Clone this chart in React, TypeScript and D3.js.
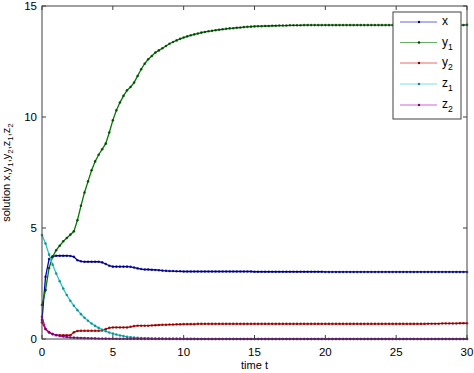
import * as d3 from "d3";

// sample times (every 0.25 time units, 0..30)
const time = d3.range(0, 30.001, 0.25);

const xSeries = [
  0.86, 2.8, 3.6, 3.72, 3.75, 3.75, 3.75, 3.75,
  3.74, 3.7, 3.55, 3.5, 3.48, 3.48, 3.48, 3.48,
  3.48, 3.45, 3.38, 3.3, 3.26, 3.26, 3.26, 3.26,
  3.26, 3.25, 3.22, 3.18, 3.15, 3.13, 3.13, 3.12,
  3.11, 3.1, 3.08, 3.07, 3.06, 3.06, 3.05, 3.05,
  3.04, 3.04, 3.04, 3.04, 3.04, 3.04, 3.04, 3.04,
  3.04, 3.04, 3.04, 3.04, 3.04, 3.04, 3.04, 3.04,
  3.04, 3.04, 3.04, 3.04, 3.03, 3.03, 3.03, 3.03,
  3.03, 3.03, 3.03, 3.03, 3.03, 3.03, 3.03, 3.03,
  3.03, 3.03, 3.03, 3.03, 3.03, 3.03, 3.03, 3.03,
  3.02, 3.02, 3.02, 3.02, 3.02, 3.02, 3.02, 3.02,
  3.02, 3.02, 3.02, 3.02, 3.02, 3.02, 3.02, 3.02,
  3.02, 3.02, 3.02, 3.02, 3.02, 3.02, 3.02, 3.02,
  3.02, 3.02, 3.02, 3.02, 3.02, 3.02, 3.02, 3.02,
  3.02, 3.02, 3.02, 3.02, 3.02, 3.02, 3.02, 3.02,
  3.02,
];

const y1Series = [
  1.53, 2.2, 3.2, 3.7, 4.0, 4.2, 4.4, 4.55,
  4.7, 4.85, 5.35, 6.0, 6.6, 7.1, 7.6, 8.0,
  8.3, 8.55, 8.8, 9.3, 9.85, 10.3, 10.65, 10.95,
  11.2, 11.35, 11.55, 11.85, 12.15, 12.4, 12.6, 12.75,
  12.9, 13.0, 13.1, 13.2, 13.3, 13.38, 13.45, 13.52,
  13.58, 13.63, 13.68, 13.72, 13.76, 13.8, 13.83, 13.86,
  13.88, 13.91, 13.93, 13.95, 13.97, 13.99, 14.0, 14.02,
  14.03, 14.05, 14.06, 14.07, 14.08, 14.09, 14.09, 14.1,
  14.1, 14.11, 14.11, 14.12, 14.12, 14.12, 14.13, 14.13,
  14.13, 14.13, 14.14, 14.14, 14.14, 14.14, 14.14, 14.14,
  14.14, 14.14, 14.14, 14.14, 14.14, 14.14, 14.14, 14.14,
  14.14, 14.14, 14.14, 14.14, 14.14, 14.14, 14.14, 14.14,
  14.14, 14.14, 14.14, 14.14, 14.14, 14.14, 14.14, 14.14,
  14.14, 14.14, 14.14, 14.14, 14.14, 14.14, 14.14, 14.14,
  14.14, 14.14, 14.14, 14.14, 14.14, 14.14, 14.14, 14.14,
  14.15,
];

const y2Series = [
  0.75, 0.45, 0.3, 0.22, 0.18, 0.17, 0.17, 0.17,
  0.17, 0.3, 0.36, 0.37, 0.37, 0.37, 0.37, 0.37,
  0.37, 0.38, 0.45, 0.5, 0.52, 0.52, 0.52, 0.52,
  0.52, 0.55, 0.58, 0.6, 0.6, 0.6, 0.6, 0.61,
  0.62, 0.63, 0.64, 0.64, 0.65, 0.65, 0.66, 0.66,
  0.67, 0.67, 0.67, 0.67, 0.68, 0.68, 0.68, 0.68,
  0.68, 0.68, 0.68, 0.68, 0.68, 0.68, 0.68, 0.68,
  0.68, 0.68, 0.68, 0.68, 0.68, 0.68, 0.68, 0.68,
  0.68, 0.68, 0.68, 0.68, 0.68, 0.68, 0.68, 0.68,
  0.68, 0.68, 0.68, 0.68, 0.68, 0.68, 0.68, 0.68,
  0.68, 0.68, 0.68, 0.68, 0.68, 0.68, 0.68, 0.68,
  0.68, 0.68, 0.68, 0.68, 0.68, 0.68, 0.68, 0.68,
  0.68, 0.68, 0.68, 0.68, 0.68, 0.68, 0.68, 0.68,
  0.68, 0.68, 0.68, 0.68, 0.68, 0.69, 0.69, 0.69,
  0.69, 0.7, 0.7, 0.7, 0.7, 0.7, 0.71, 0.71,
  0.71,
];

const z1Series = [
  4.68, 4.3, 3.8, 3.35, 2.95, 2.6, 2.27, 1.98,
  1.72, 1.5, 1.3, 1.12, 0.96, 0.82, 0.7, 0.59,
  0.5, 0.42, 0.35, 0.29, 0.24, 0.2, 0.16, 0.13,
  0.1, 0.08, 0.06, 0.05, 0.04, 0.035, 0.03, 0.025,
  0.02, 0.018, 0.015, 0.012, 0.01, 0.009, 0.008, 0.007,
  0.006, 0.005, 0.004, 0.004, 0.003, 0.003, 0.003, 0.003,
  0.002, 0.002, 0.002, 0.002, 0.002, 0.002, 0.002, 0.002,
  0, 0, 0, 0, 0, 0, 0, 0,
  0, 0, 0, 0, 0, 0, 0, 0,
  0, 0, 0, 0, 0, 0, 0, 0,
  0, 0, 0, 0, 0, 0, 0, 0,
  0, 0, 0, 0, 0, 0, 0, 0,
  0, 0, 0, 0, 0, 0, 0, 0,
  0, 0, 0, 0, 0, 0, 0, 0,
  0, 0, 0, 0, 0, 0, 0, 0,
  0,
];

const z2Series = [
  1.0, 0.45, 0.3, 0.22, 0.17, 0.14, 0.11, 0.09,
  0.07, 0.06, 0.05, 0.045, 0.04, 0.035, 0.03, 0.028,
  0.02, 0.018, 0.016, 0.014, 0.012, 0.01, 0.009, 0.008,
  0.007, 0.007, 0.006, 0.006, 0.005, 0.005, 0.005, 0.005,
  0.005, 0.005, 0.005, 0.005, 0.005, 0.005, 0.005, 0.005,
  0, 0, 0, 0, 0, 0, 0, 0,
  0, 0, 0, 0, 0, 0, 0, 0,
  0, 0, 0, 0, 0, 0, 0, 0,
  0, 0, 0, 0, 0, 0, 0, 0,
  0, 0, 0, 0, 0, 0, 0, 0,
  0, 0, 0, 0, 0, 0, 0, 0,
  0, 0, 0, 0, 0, 0, 0, 0,
  0, 0, 0, 0, 0, 0, 0, 0,
  0, 0, 0, 0, 0, 0, 0, 0,
  0, 0, 0, 0, 0, 0, 0, 0,
  0,
];

const seriesNames = ["x", "y1", "y2", "z1", "z2"];
const seriesValues = [xSeries, y1Series, y2Series, z1Series, z2Series];
const seriesColors = ["#0000c0", "#007a00", "#e00000", "#20c8c8", "#b400b4"];
const markerColors = ["#000070", "#003800", "#800000", "#108080", "#700070"];

const xTicks = [0, 5, 10, 15, 20, 25, 30];
const yTicks = [0, 5, 10, 15];

const W = 474;
const H = 373;
const margin = { top: 6, right: 7, bottom: 34, left: 42 };
const font = "Arial, 'Liberation Sans', Helvetica, sans-serif";

function Label({ name, x, y, size }: { name: string; x: number; y: number; size: number }) {
  const base = name[0];
  const sub = name.slice(1);
  return (
    <text x={x} y={y} fontSize={size} fontFamily={font} fill="#000">
      {base}
      {sub && (
        <tspan fontSize={size * 0.72} dy={size * 0.35}>
          {sub}
        </tspan>
      )}
    </text>
  );
}

export default function App() {
  const xScale = d3
    .scaleLinear()
    .domain([0, 30])
    .range([margin.left, W - margin.right]);
  const yScale = d3
    .scaleLinear()
    .domain([0, 15])
    .range([H - margin.bottom, margin.top]);

  const line = d3
    .line<number>()
    .x((_, i) => xScale(time[i]))
    .y((d) => yScale(d));

  const [x0, x1] = xScale.range();
  const [yb, yt] = yScale.range();
  const axisColor = "#404040";
  const tickLen = 4;

  // legend geometry
  const lg = { x: 393, y: 12, w: 68, h: 107 };
  const rowY = [22, 42.5, 63, 84, 105];

  return (
    <svg
      width={W}
      height={H}
      style={{ position: "absolute", left: 0, top: 0, background: "#fff" }}
    >
      <rect x={0} y={0} width={W} height={H} fill="#fff" />

      {seriesValues.map((vals, s) => (
        <g key={seriesNames[s]}>
          <path d={line(vals) ?? ""} fill="none" stroke={seriesColors[s]} strokeWidth={1.3} />
          {vals.map((v, i) => (
            <circle
              key={i}
              cx={xScale(time[i])}
              cy={yScale(v)}
              r={1.3}
              fill={markerColors[s]}
              opacity={0.8}
            />
          ))}
        </g>
      ))}

      {/* frame */}
      <rect
        x={x0}
        y={yt}
        width={x1 - x0}
        height={yb - yt}
        fill="none"
        stroke={axisColor}
        strokeWidth={1}
      />

      {xTicks.map((t) => (
        <g key={`xt${t}`}>
          <line x1={xScale(t)} x2={xScale(t)} y1={yb} y2={yb - tickLen} stroke={axisColor} />
          <line x1={xScale(t)} x2={xScale(t)} y1={yt} y2={yt + tickLen} stroke={axisColor} />
          <text
            x={xScale(t)}
            y={yb + 17}
            textAnchor="middle"
            fontSize={11.5}
            fontFamily={font}
            fill="#000"
          >
            {t}
          </text>
        </g>
      ))}

      {yTicks.map((t) => (
        <g key={`yt${t}`}>
          <line x1={x0} x2={x0 + tickLen} y1={yScale(t)} y2={yScale(t)} stroke={axisColor} />
          <line x1={x1} x2={x1 - tickLen} y1={yScale(t)} y2={yScale(t)} stroke={axisColor} />
          <text
            x={x0 - 5}
            y={yScale(t) + 4}
            textAnchor="end"
            fontSize={11.5}
            fontFamily={font}
            fill="#000"
          >
            {t}
          </text>
        </g>
      ))}

      <text
        x={(x0 + x1) / 2}
        y={369}
        textAnchor="middle"
        fontSize={11}
        fontFamily={font}
        fill="#000"
      >
        time t
      </text>

      <text
        transform={`translate(10, ${(yb + yt) / 2}) rotate(-90)`}
        textAnchor="middle"
        fontSize={11}
        fontFamily={font}
        fill="#000"
      >
        solution x,y<tspan fontSize={8} dy={3}>1</tspan>
        <tspan dy={-3}>,y</tspan>
        <tspan fontSize={8} dy={3}>2</tspan>
        <tspan dy={-3}>,z</tspan>
        <tspan fontSize={8} dy={3}>1</tspan>
        <tspan dy={-3}>,z</tspan>
        <tspan fontSize={8} dy={3}>2</tspan>
      </text>

      {/* legend */}
      <rect x={lg.x} y={lg.y} width={lg.w} height={lg.h} fill="#fff" stroke={axisColor} />
      {seriesNames.map((n, i) => (
        <g key={`lg${n}`}>
          <line
            x1={lg.x + 7}
            x2={lg.x + 44}
            y1={rowY[i]}
            y2={rowY[i]}
            stroke={seriesColors[i]}
            strokeOpacity={0.6}
            strokeWidth={1}
          />
          <circle cx={lg.x + 26} cy={rowY[i]} r={1.2} fill={markerColors[i]} />
          <Label name={n} x={lg.x + 49} y={rowY[i] + 3} size={12} />
        </g>
      ))}
    </svg>
  );
}
